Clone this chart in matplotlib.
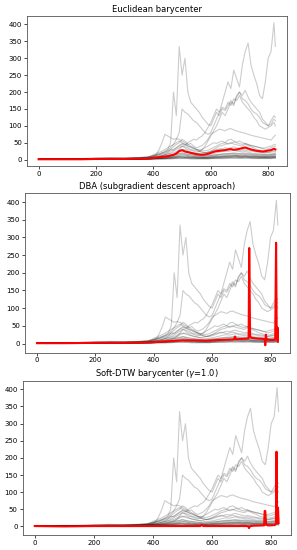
import numpy as np
import matplotlib
matplotlib.use("Agg")
import matplotlib.pyplot as plt

# shared time grid for the gray series
t = [0, 50, 100, 150, 200, 250, 300, 350, 380,
     390, 400, 410, 420, 430, 440, 450, 460, 470, 480,
     490, 500, 510, 520, 530, 540, 550, 560, 570, 580,
     590, 600, 610, 620, 630, 640, 650, 660, 670, 680,
     690, 700, 710, 720, 730, 740, 750, 760, 770, 780,
     790, 800, 810, 820, 825]

series = [
    [2, 2, 3, 3, 4, 5, 4, 6, 8, 10, 12, 15, 18, 20, 22, 25, 30, 28, 35,
     40, 45, 42, 50, 55, 60, 58, 65, 70, 80, 95, 110, 130, 150, 140,
     170, 200, 230, 210, 265, 240, 215, 280, 320, 345, 280, 250, 225, 190, 180,
     230, 300, 320, 405, 335],
    [1, 1, 2, 2, 3, 3, 4, 5, 7, 9, 12, 14, 16, 20, 25, 30, 50, 200, 130,
     335, 250, 300, 200, 170, 160, 150, 140, 125, 115, 105, 100, 120, 140, 130,
     150, 145, 160, 175, 165, 185, 200, 190, 205, 185, 170, 160, 150, 140, 120,
     110, 100, 105, 120, 115],
    [1, 1, 2, 2, 2, 3, 3, 4, 6, 8, 10, 12, 15, 18, 22, 28, 35, 45, 60,
     80, 150, 140, 135, 125, 115, 110, 100, 90, 80, 75, 80, 100, 120, 140,
     155, 150, 170, 160, 180, 175, 190, 170, 160, 150, 140, 125, 115, 100, 95,
     90, 95, 100, 110, 100],
    [1, 1, 1, 2, 2, 2, 3, 3, 4, 6, 8, 15, 30, 50, 75, 70, 65, 60, 62,
     60, 55, 50, 45, 48, 40, 35, 38, 42, 50, 60, 75, 80, 85, 90,
     88, 85, 90, 92, 88, 85, 82, 80, 78, 75, 72, 70, 68, 66, 64,
     62, 60, 58, 68, 72],
    [1, 1, 1, 1, 2, 2, 2, 3, 3, 4, 5, 6, 7, 8, 10, 12, 14, 16, 20,
     30, 40, 35, 30, 28, 25, 22, 24, 30, 40, 55, 70, 85, 100, 120,
     140, 130, 150, 170, 160, 190, 200, 180, 175, 165, 150, 140, 135, 125, 110,
     105, 100, 115, 130, 125],
    [2, 2, 2, 3, 5, 6, 5, 6, 8, 10, 15, 18, 22, 25, 30, 35, 40, 45, 50,
     55, 50, 45, 40, 38, 35, 30, 28, 30, 35, 40, 45, 50, 48, 52,
     55, 50, 58, 60, 55, 52, 55, 50, 48, 45, 42, 40, 38, 35, 33,
     30, 32, 35, 38, 40],
    [1, 1, 2, 2, 3, 4, 4, 5, 6, 8, 10, 12, 14, 16, 18, 22, 30, 38, 45,
     50, 60, 55, 45, 40, 35, 30, 25, 22, 20, 22, 25, 30, 35, 40,
     42, 45, 48, 50, 46, 44, 42, 40, 45, 42, 38, 35, 30, 28, 25,
     24, 25, 28, 30, 32],
    [1, 1, 1, 2, 2, 3, 3, 4, 5, 6, 8, 9, 10, 12, 14, 16, 20, 25, 30,
     35, 40, 38, 35, 30, 28, 26, 24, 22, 20, 20, 22, 25, 28, 30,
     32, 35, 33, 36, 38, 35, 33, 30, 32, 30, 28, 26, 25, 24, 22,
     20, 22, 24, 26, 25],
    [1, 1, 1, 1, 2, 2, 2, 3, 4, 5, 6, 7, 8, 9, 10, 12, 14, 16, 20,
     25, 28, 30, 26, 22, 20, 18, 16, 15, 14, 15, 16, 18, 20, 22,
     24, 25, 24, 26, 28, 25, 24, 22, 24, 22, 20, 18, 18, 17, 16,
     15, 16, 17, 18, 18],
    [1, 1, 1, 1, 1, 2, 2, 2, 3, 3, 4, 4, 5, 6, 7, 8, 9, 10, 12,
     14, 15, 14, 12, 11, 10, 9, 9, 8, 8, 9, 10, 11, 12, 13,
     14, 14, 15, 15, 16, 15, 14, 14, 15, 14, 13, 12, 12, 11, 11,
     10, 11, 12, 12, 13],
    [1, 1, 1, 1, 1, 1, 2, 2, 2, 3, 3, 4, 4, 5, 5, 6, 7, 8, 9,
     10, 11, 10, 9, 8, 8, 7, 7, 6, 6, 7, 8, 9, 10, 10,
     11, 12, 12, 12, 13, 12, 12, 11, 12, 11, 10, 10, 9, 9, 9,
     8, 9, 9, 10, 10],
    [1, 1, 1, 1, 1, 1, 1, 2, 2, 2, 3, 3, 3, 4, 4, 5, 5, 6, 7,
     8, 8, 7, 7, 6, 6, 5, 5, 5, 5, 5, 6, 7, 7, 8,
     8, 9, 9, 9, 10, 10, 9, 9, 10, 9, 8, 8, 8, 7, 7,
     7, 7, 8, 8, 8],
    [1, 1, 1, 1, 1, 1, 1, 1, 2, 2, 2, 2, 3, 3, 3, 4, 4, 5, 5,
     6, 6, 6, 5, 5, 5, 4, 4, 4, 4, 4, 5, 5, 6, 6,
     6, 7, 7, 7, 8, 8, 7, 7, 8, 7, 7, 6, 6, 6, 6,
     6, 6, 6, 7, 7],
    [1, 1, 1, 1, 1, 1, 1, 1, 1, 1, 2, 2, 2, 2, 2, 3, 3, 3, 4,
     4, 4, 4, 4, 3, 3, 3, 3, 3, 3, 3, 3, 4, 4, 4,
     4, 5, 5, 5, 5, 5, 5, 5, 5, 5, 5, 4, 4, 4, 4,
     4, 4, 4, 5, 5],
    [1, 2, 2, 2, 3, 3, 3, 4, 5, 6, 7, 8, 10, 12, 14, 16, 18, 20, 24,
     28, 30, 26, 24, 22, 20, 18, 17, 18, 20, 22, 25, 28, 30, 32,
     30, 28, 30, 32, 30, 28, 27, 26, 28, 26, 25, 24, 22, 21, 20,
     20, 21, 22, 23, 22],
    [1, 1, 1, 1, 2, 2, 2, 2, 3, 3, 4, 4, 5, 5, 6, 7, 8, 9, 10,
     12, 14, 13, 11, 10, 9, 8, 8, 7, 7, 7, 8, 8, 9, 9,
     10, 10, 11, 11, 12, 12, 11, 11, 12, 11, 10, 10, 10, 9, 9,
     9, 9, 10, 10, 10],
    [1, 1, 1, 1, 1, 1, 1, 1, 1, 1, 1, 2, 2, 2, 2, 2, 2, 3, 3,
     3, 3, 3, 3, 2, 2, 2, 2, 2, 2, 2, 3, 3, 3, 3,
     3, 3, 4, 4, 4, 4, 4, 4, 4, 4, 3, 3, 3, 3, 3,
     3, 3, 3, 4, 4],
    [1, 1, 1, 1, 1, 1, 2, 2, 2, 2, 3, 3, 4, 4, 5, 5, 6, 7, 8,
     9, 9, 8, 8, 7, 7, 6, 6, 6, 6, 6, 7, 7, 8, 8,
     9, 9, 10, 10, 10, 10, 9, 9, 9, 9, 8, 8, 8, 7, 7,
     7, 7, 7, 8, 8],
    [1, 1, 1, 1, 1, 2, 2, 2, 3, 4, 5, 6, 6, 7, 8, 10, 12, 14, 16,
     18, 20, 18, 16, 15, 14, 12, 12, 11, 11, 12, 13, 14, 15, 16,
     17, 18, 18, 19, 20, 19, 18, 18, 19, 18, 17, 16, 15, 15, 14,
     14, 14, 15, 16, 16],
    [2, 2, 2, 2, 2, 3, 3, 3, 4, 5, 6, 8, 10, 12, 15, 20, 25, 30, 35,
     42, 48, 45, 40, 36, 32, 30, 28, 26, 26, 28, 32, 36, 40, 45,
     48, 50, 46, 48, 52, 50, 47, 45, 48, 44, 42, 40, 38, 36, 34,
     35, 38, 40, 44, 45],
    [1, 1, 1, 1, 1, 1, 1, 1, 2, 2, 2, 3, 3, 3, 4, 4, 5, 5, 6,
     7, 7, 6, 6, 5, 5, 5, 4, 4, 4, 4, 5, 5, 5, 6,
     6, 6, 6, 7, 7, 7, 6, 6, 7, 6, 6, 6, 5, 5, 5,
     5, 5, 5, 6, 6],
    [1, 1, 1, 1, 2, 2, 2, 3, 3, 4, 5, 5, 6, 7, 8, 9, 11, 13, 15,
     17, 19, 17, 15, 14, 13, 12, 11, 10, 10, 11, 12, 13, 14, 15,
     16, 17, 17, 18, 18, 17, 17, 16, 17, 16, 15, 14, 14, 13, 13,
     12, 13, 14, 15, 15],
]

euclid_y = [1, 1, 1, 1, 2, 2, 2, 3, 3, 4, 5, 6, 7, 8, 9, 10, 12, 14, 18,
            25, 28, 24, 22, 20, 18, 16, 15, 14, 15, 17, 20, 23, 25, 26,
            27, 28, 30, 31, 29, 30, 32, 34, 36, 33, 30, 28, 26, 25, 24,
            25, 27, 28, 32, 30]

dba_x = [0, 100, 200, 300, 380, 420, 460, 500, 540, 580, 620, 660, 675, 678, 682,
         700, 720, 725, 727, 730, 735, 745, 760, 775, 780, 782, 784, 786, 790, 800,
         812, 816, 819, 821, 823, 824, 825]
dba_y = [1, 1, 2, 2, 3, 5, 7, 9, 9, 8, 10, 11, 12, 20, 12,
         13, 14, 15, 270, 20, 16, 15, 14, 13, 12, -5, 25, 12, 11, 10,
         10, 12, 285, 40, 10, 45, 5]

sdtw_x = [0, 100, 200, 300, 400, 500, 560, 565, 570, 650, 722, 725, 729, 740, 776,
          778, 780, 783, 788, 800, 812, 816, 818, 820, 822, 823, 825]
sdtw_y = [1, 0, 1, 1, 1, 1, 1, 5, 1, 1, 1, -5, 1, 2, 3,
          45, 45, 5, 3, 3, 4, 8, 218, 15, 10, 55, 10]

titles = ["Euclidean barycenter",
          "DBA (subgradient descent approach)",
          "Soft-DTW barycenter ($\\gamma$=1.0)"]

fig = plt.figure(figsize=(2.97, 5.5), dpi=100)
boxes = [[0.090, 0.698, 0.877, 0.273],
         [0.084, 0.359, 0.892, 0.290],
         [0.076, 0.027, 0.903, 0.281]]
reds = [(t, euclid_y), (dba_x, dba_y), (sdtw_x, sdtw_y)]

for box, title, (rx, ry) in zip(boxes, titles, reds):
    ax = fig.add_axes(box)
    for s in series:
        ax.plot(t, s, "k-", alpha=0.2, lw=0.8)
    ax.plot(rx, ry, "r-", lw=1.5)
    ax.set_title(title, fontsize=6, pad=3)
    ax.set_xticks([0, 200, 400, 600, 800])
    ax.set_yticks(np.arange(0, 401, 50))
    ax.tick_params(labelsize=5, length=2, width=0.5, pad=1.5)
    for sp in ax.spines.values():
        sp.set_linewidth(0.6)
        sp.set_color("#555555")

fig.savefig("out.png", dpi=100)
